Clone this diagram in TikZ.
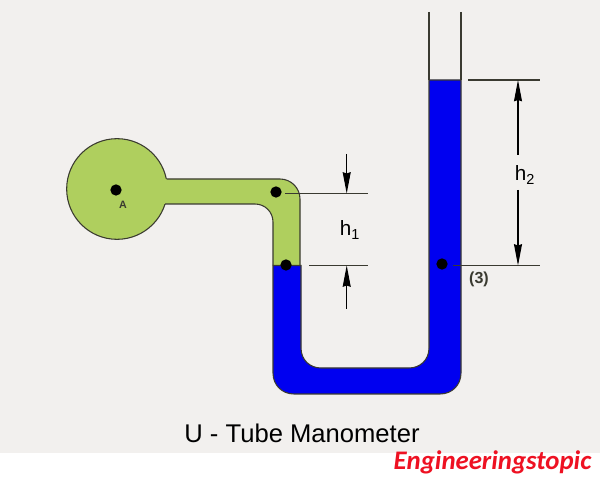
\documentclass[tikz,border=0pt]{standalone}
\usepackage{fontspec}
\setmainfont{Liberation Sans}
\newfontfamily\markfont{Carlito}
\usetikzlibrary{arrows.meta}
\definecolor{paper}{HTML}{F2F0EE}
\definecolor{gas}{HTML}{AFCF5E}
\definecolor{liquid}{HTML}{0000F0}
\definecolor{rim}{HTML}{3A3A30}
\definecolor{markred}{HTML}{EE1122}
\tikzset{
  wall/.style={draw=rim,line width=0.8pt},
  dot/.style={circle,fill=black,inner sep=0pt,minimum size=8.5pt},
  level/.style={draw=rim,line width=0.8pt},
  dim/.style={draw=black,line width=0.8pt,-{Stealth[length=16pt,width=6pt,inset=1pt]}}
}
\begin{document}
\begin{tikzpicture}[x=0.75pt,y=-0.75pt]
  \useasboundingbox (0,0) rectangle (600,484);
  \fill[paper] (0,0) rectangle (600,453.5);
  \node[circle,wall,fill=gas,inner sep=0pt,minimum size=75.5pt] (bulb) at (117,189) {};
  \fill[gas] (160,179) -- (280,179) .. controls (291,179) and (300,188) .. (300,199) -- (300,265.5)
    -- (273,265.5) -- (273,222) .. controls (273,212) and (265,204) .. (255,204) -- (160,204) -- cycle;
  \draw[wall] (166.5,179) -- (280,179) .. controls (291,179) and (300,188) .. (300,199) -- (300,265.5);
  \draw[wall] (165,204) -- (255,204) .. controls (265,204) and (273,212) .. (273,222) -- (273,265.5);
  \path[wall,fill=liquid] (273,265.5) -- (273,373) .. controls (273,385) and (282,394) .. (294,394)
    -- (440,394) .. controls (452,394) and (461,385) .. (461,373) -- (461,80) -- (429,80) -- (429,348)
    .. controls (429,360) and (420,368) .. (409,368) -- (321,368) .. controls (310,368) and (301,360) .. (301,348)
    -- (301,265.5) -- cycle;
  \draw[wall] (429,12) -- (429,80);
  \draw[wall] (461,12) -- (461,80);
  \draw
    (116,190) node[dot] (dota){}
    (276,192) node[dot] (dotb){}
    (286,265) node[dot] (dotc){}
    (442,264) node[dot] (dotd){};
  \draw
    (285,193.5) coordinate (bstart)
    (368,193.5) coordinate (bend)
    (309,265.5) coordinate (cstart)
    (368,265.5) coordinate (cend)
    (468,80) coordinate (tstart)
    (540,80) coordinate (tend)
    (453,265.5) coordinate (dstart)
    (540,265.5) coordinate (dend)
    (346.7,154) coordinate (hatop)
    (346.7,193.5) coordinate (hatip)
    (346.7,309) coordinate (hbbot)
    (346.7,265.5) coordinate (hbtip)
    (518,155) coordinate (hctop)
    (518,80) coordinate (hctip)
    (518,190) coordinate (hdbot)
    (518,265.5) coordinate (hdtip);
  \draw[level] (bstart) -- (bend);
  \draw[level] (cstart) -- (cend);
  \draw[level] (tstart) -- (tend);
  \draw[level] (dstart) -- (dend);
  \begin{scope}[dim]
    \draw[dim] (hatop) -- (hatip);
    \draw[dim] (hbbot) -- (hbtip);
    \draw[dim] (hctop) -- (hctip);
    \draw[dim] (hdbot) -- (hdtip);
  \end{scope}
  \draw
    (123,204.5) node[font=\bfseries\fontsize{8}{9}\selectfont,text=rim] (lbla){A}
    (479,279.5) node[font=\bfseries\fontsize{12}{14}\selectfont,text=rim] (lblc){(3)}
    (350,230) node[font=\fontsize{15.5}{18}\selectfont] (lblha){h\textsubscript{1}}
    (525,175) node[font=\fontsize{15.5}{18}\selectfont] (lblhb){h\textsubscript{2}}
    (302,433) node[font=\fontsize{19.2}{22}\selectfont] (title){U - Tube Manometer}
    (492.5,462) node[font=\markfont\bfseries\itshape\fontsize{20.1}{22}\selectfont,text=markred] (mark){Engineeringstopic};
\end{tikzpicture}
\end{document}
